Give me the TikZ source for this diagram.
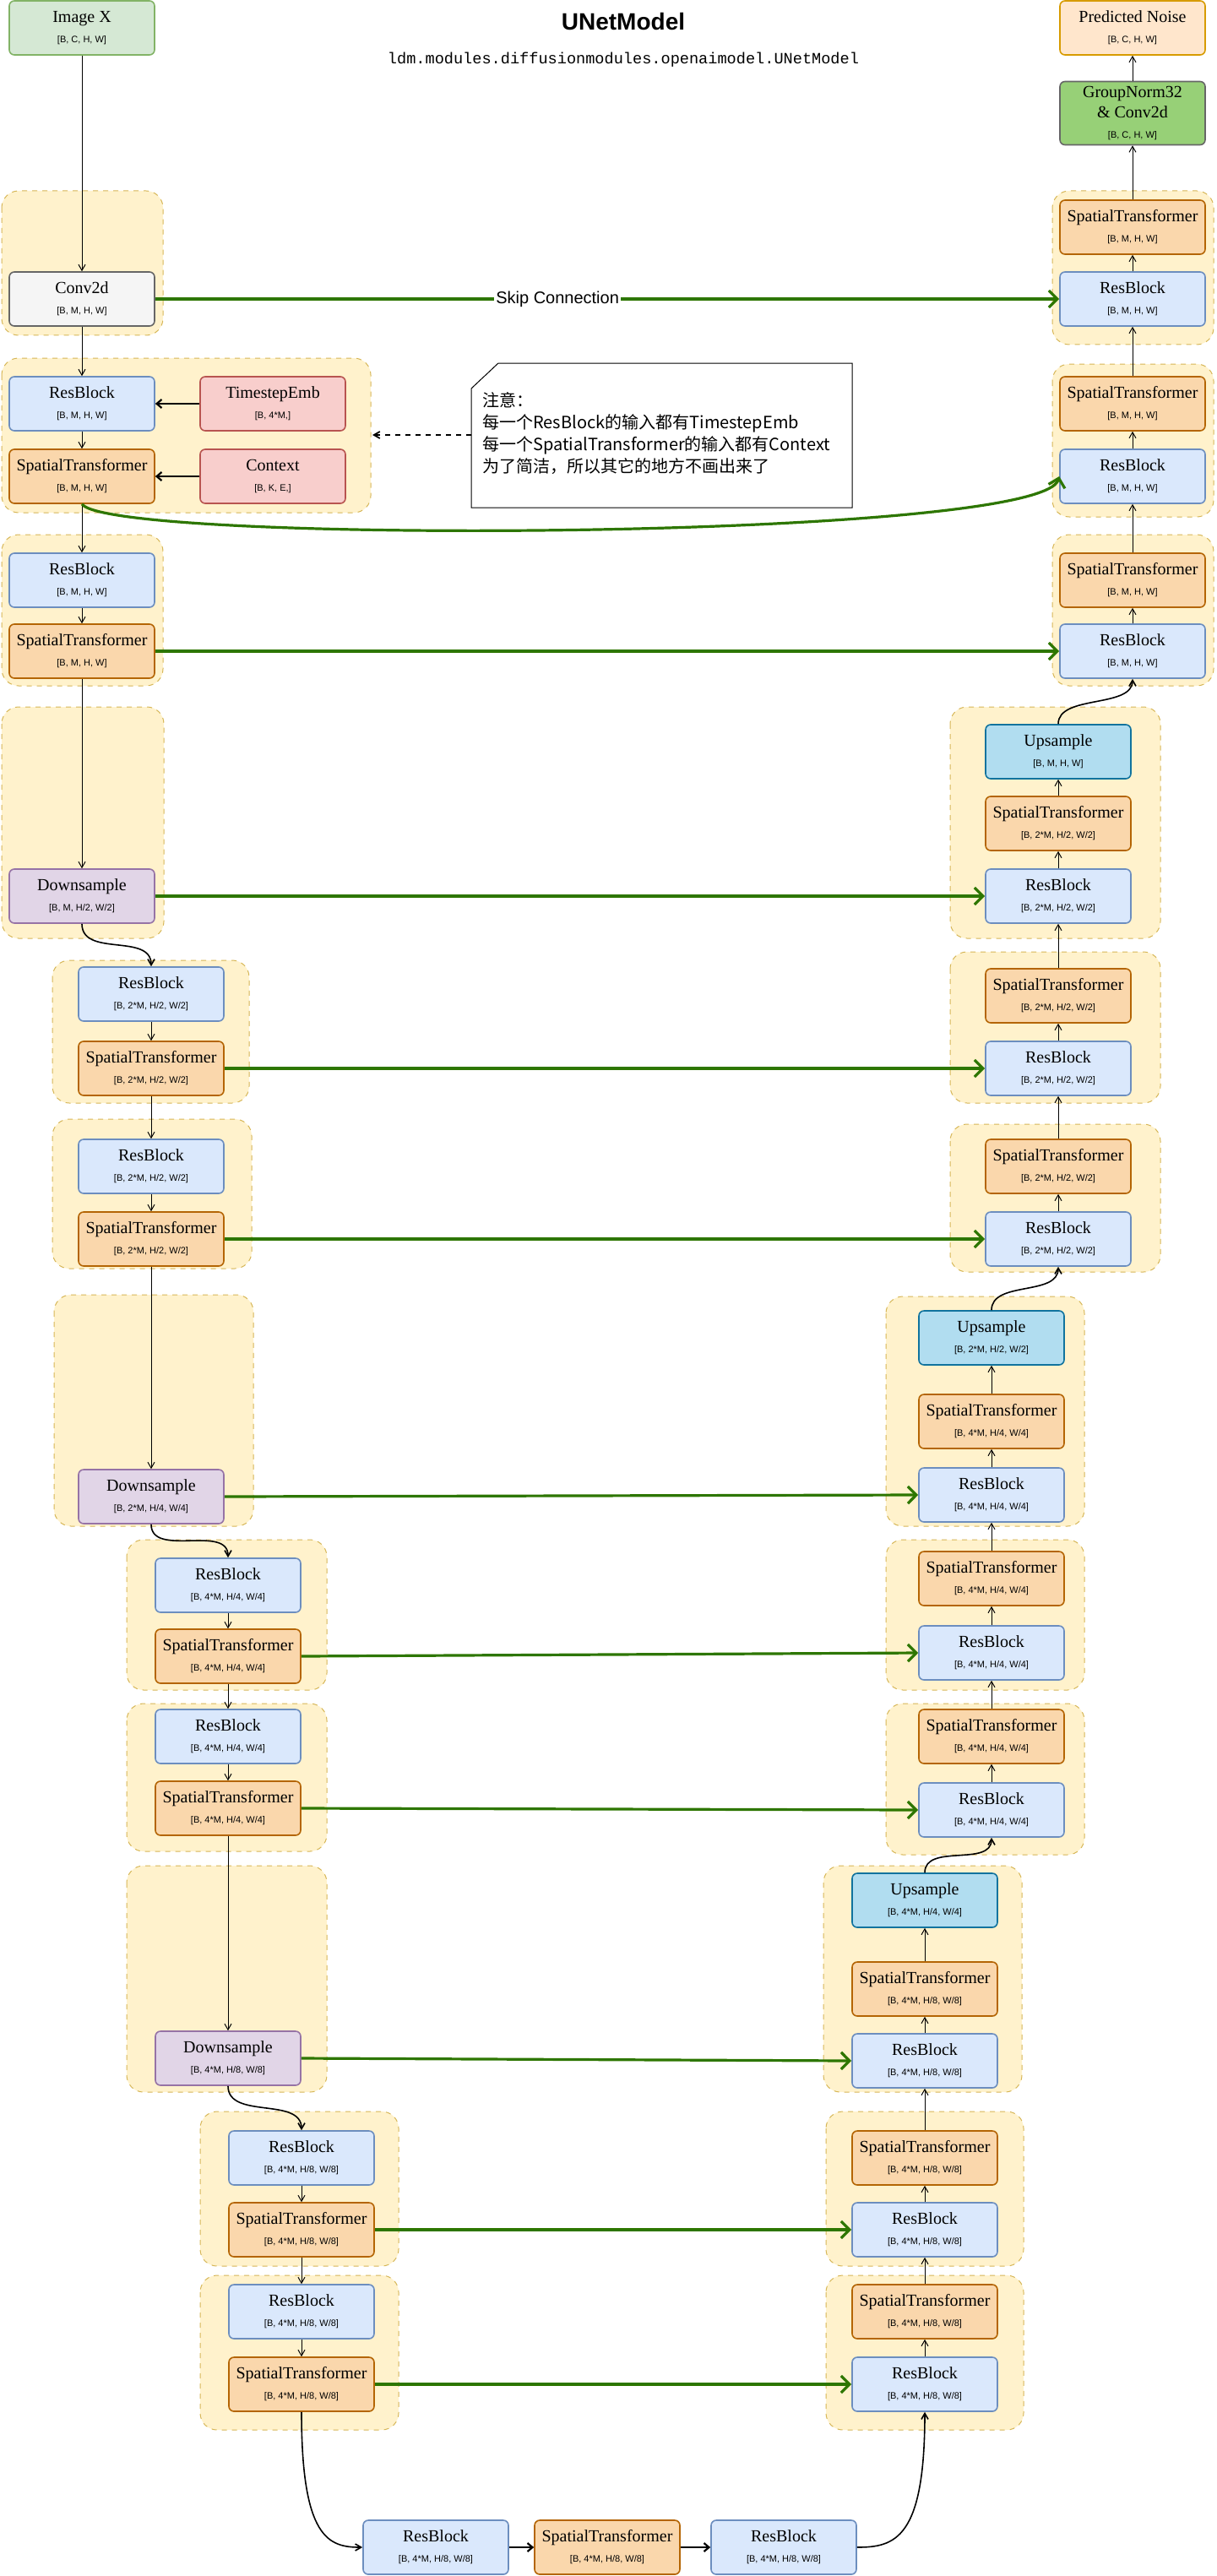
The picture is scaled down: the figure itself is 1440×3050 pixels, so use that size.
\documentclass[tikz,border=0pt]{standalone}
\usepackage{fontspec}
\setmainfont{Liberation Serif}
\newfontfamily\sansf{Liberation Sans}
\newfontfamily\monof{Liberation Mono}
\newfontfamily\cjk{Noto Sans CJK SC}
\usetikzlibrary{arrows.meta}
\definecolor{gfill}{HTML}{FFF2CC}\definecolor{gline}{HTML}{D6B656}
\definecolor{bfill}{HTML}{DAE8FC}\definecolor{bline}{HTML}{6C8EBF}
\definecolor{ofill}{HTML}{FAD7AC}\definecolor{oline}{HTML}{B46504}
\definecolor{pfill}{HTML}{E1D5E7}\definecolor{pline}{HTML}{9673A6}
\definecolor{rfill}{HTML}{F8CECC}\definecolor{rline}{HTML}{B85450}
\definecolor{lgfill}{HTML}{D5E8D4}\definecolor{lgline}{HTML}{82B366}
\definecolor{dgfill}{HTML}{97D077}\definecolor{dgline}{HTML}{666666}
\definecolor{grfill}{HTML}{F5F5F5}
\definecolor{pnfill}{HTML}{FFE6CC}\definecolor{pnline}{HTML}{D79B00}
\definecolor{ufill}{HTML}{B1DDF0}\definecolor{uline}{HTML}{10739E}
\definecolor{skipc}{HTML}{2D7600}
\newcommand\nm[1]{{\fontsize{10}{11}\selectfont #1}}
\newcommand\sz[1]{{\sansf\fontsize{5.5}{7}\selectfont #1}}
\begin{document}
\begin{tikzpicture}[x=0.5pt,y=-0.5pt,
  box/.style={draw,line width=0.8pt,rounded corners=3pt,minimum width=86pt,minimum height=32pt,align=center,inner sep=1pt},
  rbx/.style={box,fill=bfill,draw=bline},
  stx/.style={box,fill=ofill,draw=oline},
  dsx/.style={box,fill=pfill,draw=pline},
  upx/.style={box,fill=ufill,draw=uline},
  rdx/.style={box,fill=rfill,draw=rline},
  grp/.style={draw=gline,fill=gfill,dashed,rounded corners=10pt,line width=0.5pt},
  arr/.style={-{Straight Barb[length=3.5pt,width=4pt]},line width=0.5pt},
  tarr/.style={-{Straight Barb[length=3pt,width=5pt]},line width=1.1pt},
  skip/.style={-{Straight Barb[length=5pt,width=10pt]},line width=1.6pt,draw=skipc}]
\useasboundingbox (0,0) rectangle (1440,3050);
% groups
\foreach \a/\b/\c/\d in {2/226/193/397, 2/424/439/607, 2/633/193/812, 2/837/194/1111,
  62/1137/295/1306, 62/1325/298/1502, 64/1533/300/1807,
  150/1823/387/2001, 150/2017/387/2192, 150/2209/387/2477,
  237/2500/472/2683, 237/2694/472/2877,
  1246/226/1437/408, 1246/431/1437/612, 1246/633/1437/812,
  1125/837/1374/1111, 1125/1127/1374/1306, 1125/1331/1374/1506,
  1049/1535/1284/1807, 1049/1823/1284/2001, 1049/2017/1284/2196,
  975/2209/1210/2477, 978/2500/1212/2683, 978/2694/1212/2877}
  \draw[grp] (\a,\b) rectangle (\c,\d);
% title
\node[font=\sansf\bfseries\fontsize{14}{16}\selectfont] (title) at (738,25) {UNetModel};
\node[font=\monof\fontsize{9.3}{11}\selectfont] (sub) at (738,71) {ldm.modules.diffusionmodules.openaimodel.UNetModel};
% left nodes
\node[box,fill=lgfill,draw=lgline] (ix) at (97,33) {\nm{Image X}\\\sz{[B, C, H, W]}};
\node[box,fill=grfill,draw=dgline] (conv) at (97,354) {\nm{Conv2d}\\\sz{[B, M, H, W]}};
\node[rbx] (rb1) at (97,478) {\nm{ResBlock}\\\sz{[B, M, H, W]}};
\node[stx] (st1) at (97,564) {\nm{SpatialTransformer}\\\sz{[B, M, H, W]}};
\node[rdx] (temb) at (323,478) {\nm{TimestepEmb}\\\sz{[B, 4*M,]}};
\node[rdx] (ctx) at (323,564) {\nm{Context}\\\sz{[B, K, E,]}};
\node[rbx] (rb2) at (97,687) {\nm{ResBlock}\\\sz{[B, M, H, W]}};
\node[stx] (st2) at (97,771) {\nm{SpatialTransformer}\\\sz{[B, M, H, W]}};
\node[dsx] (ds1) at (97,1061) {\nm{Downsample}\\\sz{[B, M, H/2, W/2]}};
\node[rbx] (rb3) at (179,1177) {\nm{ResBlock}\\\sz{[B, 2*M, H/2, W/2]}};
\node[stx] (st3) at (179,1265) {\nm{SpatialTransformer}\\\sz{[B, 2*M, H/2, W/2]}};
\node[rbx] (rb4) at (179,1381) {\nm{ResBlock}\\\sz{[B, 2*M, H/2, W/2]}};
\node[stx] (st4) at (179,1467) {\nm{SpatialTransformer}\\\sz{[B, 2*M, H/2, W/2]}};
\node[dsx] (ds2) at (179,1772) {\nm{Downsample}\\\sz{[B, 2*M, H/4, W/4]}};
\node[rbx] (rb5) at (270,1877) {\nm{ResBlock}\\\sz{[B, 4*M, H/4, W/4]}};
\node[stx] (st5) at (270,1961) {\nm{SpatialTransformer}\\\sz{[B, 4*M, H/4, W/4]}};
\node[rbx] (rb6) at (270,2056) {\nm{ResBlock}\\\sz{[B, 4*M, H/4, W/4]}};
\node[stx] (st6) at (270,2141) {\nm{SpatialTransformer}\\\sz{[B, 4*M, H/4, W/4]}};
\node[dsx] (ds3) at (270,2437) {\nm{Downsample}\\\sz{[B, 4*M, H/8, W/8]}};
\node[rbx] (rb7) at (357,2555) {\nm{ResBlock}\\\sz{[B, 4*M, H/8, W/8]}};
\node[stx] (st7) at (357,2640) {\nm{SpatialTransformer}\\\sz{[B, 4*M, H/8, W/8]}};
\node[rbx] (rb8) at (357,2737) {\nm{ResBlock}\\\sz{[B, 4*M, H/8, W/8]}};
\node[stx] (st8) at (357,2823) {\nm{SpatialTransformer}\\\sz{[B, 4*M, H/8, W/8]}};
\node[rbx] (mb1) at (516,3016) {\nm{ResBlock}\\\sz{[B, 4*M, H/8, W/8]}};
\node[stx] (mst) at (719,3016) {\nm{SpatialTransformer}\\\sz{[B, 4*M, H/8, W/8]}};
\node[rbx] (mb2) at (928,3016) {\nm{ResBlock}\\\sz{[B, 4*M, H/8, W/8]}};
% right nodes
\node[box,fill=pnfill,draw=pnline] (pn) at (1341,33) {\nm{Predicted Noise}\\\sz{[B, C, H, W]}};
\node[box,fill=dgfill,draw=dgline,minimum height=37.5pt] (gn) at (1341,134) {\nm{GroupNorm32}\\\nm{\& Conv2d}\\\sz{[B, C, H, W]}};
\node[stx] (rst1) at (1341,269) {\nm{SpatialTransformer}\\\sz{[B, M, H, W]}};
\node[rbx] (rrb1) at (1341,354) {\nm{ResBlock}\\\sz{[B, M, H, W]}};
\node[stx] (rst2) at (1341,478) {\nm{SpatialTransformer}\\\sz{[B, M, H, W]}};
\node[rbx] (rrb2) at (1341,564) {\nm{ResBlock}\\\sz{[B, M, H, W]}};
\node[stx] (rst3) at (1341,687) {\nm{SpatialTransformer}\\\sz{[B, M, H, W]}};
\node[rbx] (rrb3) at (1341,771) {\nm{ResBlock}\\\sz{[B, M, H, W]}};
\node[upx] (up1) at (1253,890) {\nm{Upsample}\\\sz{[B, M, H, W]}};
\node[stx] (rst4) at (1253,975) {\nm{SpatialTransformer}\\\sz{[B, 2*M, H/2, W/2]}};
\node[rbx] (rrb4) at (1253,1061) {\nm{ResBlock}\\\sz{[B, 2*M, H/2, W/2]}};
\node[stx] (rst5) at (1253,1179) {\nm{SpatialTransformer}\\\sz{[B, 2*M, H/2, W/2]}};
\node[rbx] (rrb5) at (1253,1265) {\nm{ResBlock}\\\sz{[B, 2*M, H/2, W/2]}};
\node[stx] (rst6) at (1253,1381) {\nm{SpatialTransformer}\\\sz{[B, 2*M, H/2, W/2]}};
\node[rbx] (rrb6) at (1253,1467) {\nm{ResBlock}\\\sz{[B, 2*M, H/2, W/2]}};
\node[upx] (up2) at (1174,1584) {\nm{Upsample}\\\sz{[B, 2*M, H/2, W/2]}};
\node[stx] (rst7) at (1174,1683) {\nm{SpatialTransformer}\\\sz{[B, 4*M, H/4, W/4]}};
\node[rbx] (rrb7) at (1174,1770) {\nm{ResBlock}\\\sz{[B, 4*M, H/4, W/4]}};
\node[stx] (rst8) at (1174,1869) {\nm{SpatialTransformer}\\\sz{[B, 4*M, H/4, W/4]}};
\node[rbx] (rrb8) at (1174,1957) {\nm{ResBlock}\\\sz{[B, 4*M, H/4, W/4]}};
\node[stx] (rst9) at (1174,2056) {\nm{SpatialTransformer}\\\sz{[B, 4*M, H/4, W/4]}};
\node[rbx] (rrb9) at (1174,2143) {\nm{ResBlock}\\\sz{[B, 4*M, H/4, W/4]}};
\node[upx] (up3) at (1095,2250) {\nm{Upsample}\\\sz{[B, 4*M, H/4, W/4]}};
\node[stx] (rst10) at (1095,2355) {\nm{SpatialTransformer}\\\sz{[B, 4*M, H/8, W/8]}};
\node[rbx] (rrb10) at (1095,2440) {\nm{ResBlock}\\\sz{[B, 4*M, H/8, W/8]}};
\node[stx] (rst11) at (1095,2555) {\nm{SpatialTransformer}\\\sz{[B, 4*M, H/8, W/8]}};
\node[rbx] (rrb11) at (1095,2640) {\nm{ResBlock}\\\sz{[B, 4*M, H/8, W/8]}};
\node[stx] (rst12) at (1095,2737) {\nm{SpatialTransformer}\\\sz{[B, 4*M, H/8, W/8]}};
\node[rbx] (rrb12) at (1095,2823) {\nm{ResBlock}\\\sz{[B, 4*M, H/8, W/8]}};
% note
\draw[line width=0.5pt,fill=white] (590,430) -- (1009,430) -- (1009,601) -- (558,601) -- (558,460) -- cycle;
\node[anchor=north west,align=left,font=\cjk\fontsize{10}{13}\selectfont,inner sep=0pt] (note) at (571,464)
  {注意：\\每一个ResBlock的输入都有TimestepEmb\\每一个SpatialTransformer的输入都有Context\\为了简洁，所以其它的地方不画出来了};
\coordinate (nw) at (558,515);
\coordinate (ge) at (441,515);
\draw[arr,dashed,line width=0.9pt] (nw) -- (ge);
% left chain
\foreach \p/\q in {ix/conv,conv/rb1,rb1/st1,st1/rb2,rb2/st2,st2/ds1,rb3/st3,st3/rb4,rb4/st4,st4/ds2,rb5/st5,st5/rb6,rb6/st6,st6/ds3,rb7/st7,st7/rb8,rb8/st8}
  \draw[arr] (\p.south) -- (\q.north);
\foreach \p/\q in {ds1/rb3,ds2/rb5,ds3/rb7}
  \draw[arr,line width=0.8pt] (\p.south) .. controls +(0,40) and +(0,-40) .. (\q.north);
\draw[arr,line width=0.8pt] (st8.south) .. controls +(0,150) and +(-40,0) .. (mb1.west);
\draw[tarr] (mb1) -- (mst);
\draw[tarr] (mst) -- (mb2);
\draw[arr,line width=0.8pt] (mb2.east) .. controls +(45,0) and +(0,150) .. (rrb12.south);
\draw[tarr] (temb) -- (rb1);
\draw[tarr] (ctx) -- (st1);
% right chain
\foreach \p/\q in {gn/pn,rst1/gn,rrb1/rst1,rst2/rrb1,rrb2/rst2,rst3/rrb2,rrb3/rst3,
  rst4/up1,rrb4/rst4,rst5/rrb4,rrb5/rst5,rst6/rrb5,rrb6/rst6,
  rst7/up2,rrb7/rst7,rst8/rrb7,rrb8/rst8,rst9/rrb8,rrb9/rst9,
  rst10/up3,rrb10/rst10,rst11/rrb10,rrb11/rst11,rst12/rrb11,rrb12/rst12}
  \draw[arr] (\p.north) -- (\q.south);
\foreach \p/\q in {up1/rrb3,up2/rrb6,up3/rrb9}
  \draw[arr,line width=0.8pt] (\p.north) .. controls +(0,-35) and +(0,35) .. (\q.south);
% skips
\draw[skip] (conv.east) -- node[pos=0.445,fill=white,inner sep=1pt,font=\sansf\fontsize{10}{12}\selectfont] (skl) {Skip Connection} (rrb1.west);
\draw[skip] (st1.south) .. controls (130,645) and (1235,640) .. (rrb2.west);
\foreach \p/\q in {st2/rrb3,ds1/rrb4,st3/rrb5,st4/rrb6,ds2/rrb7,st5/rrb8,st6/rrb9,ds3/rrb10,st7/rrb11,st8/rrb12}
  \draw[skip] (\p.east) -- (\q.west);
\end{tikzpicture}
\end{document}
